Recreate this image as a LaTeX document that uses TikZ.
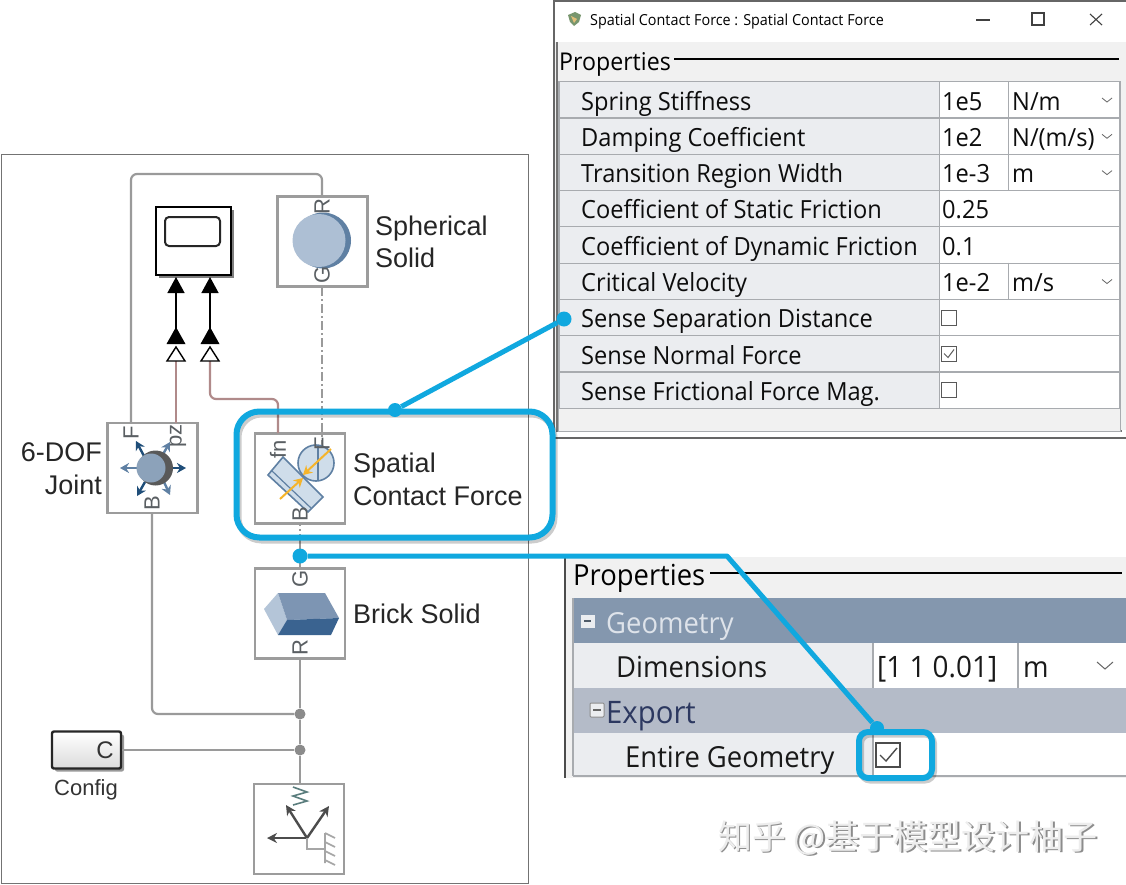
\documentclass[tikz,border=0pt]{standalone}
\usepackage{fontspec}
\setmainfont{Liberation Sans}
\newfontfamily\uifont[FakeStretch=0.945]{Open Sans}
\newfontfamily\cjk{Noto Sans CJK SC}
\usetikzlibrary{arrows.meta,shadows,calc}
\definecolor{wire}{HTML}{9A9A9A}
\definecolor{blockedge}{HTML}{9C9C9C}
\definecolor{redwire}{HTML}{B08A8A}
\definecolor{callout}{HTML}{10A8DF}
\definecolor{portc}{HTML}{5A5F63}
\definecolor{labelbg}{HTML}{EBEDF0}
\definecolor{grid}{HTML}{A8ABAF}
\definecolor{winbg}{HTML}{F1F1F1}
\definecolor{hdrA}{HTML}{8497AE}
\definecolor{hdrB}{HTML}{B4BBC8}
\definecolor{steel}{HTML}{5F80A3}
\definecolor{navy}{HTML}{1F4E79}
\definecolor{amber}{HTML}{F5B42A}
\definecolor{paleblue}{HTML}{CFDDEA}
\tikzset{
  fs/.style={font=\fontsize{#1}{#1}\selectfont},
  blockbox/.style={draw=blockedge,line width=2.4pt,fill=white,minimum width=90pt,minimum height=90pt,inner sep=0pt},
  wireline/.style={draw=wire,line width=2.2pt,rounded corners=6pt},
  redline/.style={draw=redwire,line width=2.2pt,rounded corners=6pt},
  sigline/.style={draw=black,line width=1.4pt,-{Triangle[length=16pt,width=17pt]}},
  dashwire/.style={draw=wire,line width=2pt,dash pattern=on 9pt off 3pt on 2pt off 3pt},
  junction/.style={circle,fill=wire!90!black,minimum size=11pt,inner sep=0pt},
  port/.style={rotate=90,text=portc,fs=22,inner sep=0pt},
  blocklabel/.style={anchor=base west,fs=27,text=black!85,inner sep=0pt},
  calloutline/.style={draw=callout,line width=5pt,line join=round},
  calloutdot/.style={circle,fill=callout,minimum size=15pt,inner sep=0pt},
  ghost/.style={draw=black,opacity=.2},
  rowlabel/.style={draw=grid,fill=labelbg,line width=1.2pt,minimum height=36.3pt,minimum width=380pt,anchor=north west,inner sep=0pt},
  rowvalue/.style={draw=grid,fill=white,line width=1.2pt,minimum height=36.3pt,anchor=north west,inner sep=0pt},
  rowtext/.style={anchor=base west,inner sep=0pt,text=black!95,font=\uifont\fontsize{25}{25}\selectfont},
  tickbox/.style={draw=black!65,line width=1pt,fill=white,minimum size=15pt,inner sep=0pt},
  chev/.style={draw=black!60,line width=.8pt},
  iconarrow/.style={line width=2.4pt,-{Stealth[length=9pt,width=10pt]}},
  sectiontext/.style={anchor=base west,inner sep=0pt,font=\uifont\fontsize{29}{29}\selectfont},
}
\begin{document}
\begin{tikzpicture}[x=1pt,y=-1pt]
\useasboundingbox (0,0) rectangle (1126,884);
\fill[white] (0,0) rectangle (1126,884);
% model frame
\node[draw=black!55,line width=1.8pt,fill=white,minimum width=527pt,minimum height=729pt,inner sep=0pt,anchor=north west] (frame) at (0.5,153.5) {};
% blocks
\node[blockbox] (sph) at (322.5,241.5) {};
\node[blockbox] (dof) at (152.5,468) {};
\node[blockbox] (scf) at (300,478.5) {};
\node[blockbox] (brick) at (300,613.5) {};
\node[blockbox] (world) at (299,829) {};
\node[draw=black,line width=2.4pt,fill=white,minimum width=75pt,minimum height=68pt,inner sep=0pt,
  drop shadow={shadow xshift=3pt,shadow yshift=-3pt,opacity=.5,fill=black}] (scope) at (193.5,241) {};
\node[draw=black!85,line width=2pt,rounded corners=4pt,minimum width=55pt,minimum height=29pt,inner sep=0pt] (scopein) at (192.5,231.5) {};
\node[draw=black!85,line width=2.4pt,rounded corners=2pt,minimum width=69pt,minimum height=37pt,inner sep=0pt,
  top color=white,bottom color=black!14,
  drop shadow={shadow xshift=3pt,shadow yshift=-3pt,opacity=.4,fill=black}] (cfg) at (86.5,750) {};
% coordinates for ports
\coordinate (dofF) at (131,422.5);
\coordinate (dofP) at (176,422.5);
\coordinate (sphR) at (322,196);
\coordinate (sphG) at (322,287);
\coordinate (scfF) at (322,445);
\coordinate (scfFn) at (278,433);
\coordinate (dofB) at (152,513.5);
\coordinate (scfB) at (300,524);
\coordinate (brickG) at (300,568);
\coordinate (brickR) at (300,659);
\coordinate (worldW) at (300,784);
\coordinate (mA) at (176,344);
\coordinate (mB) at (210,344);
\coordinate (mAt) at (176,361);
\coordinate (mBt) at (210,361);
\node[junction] (j1) at (300,714) {};
\node[junction] (j2) at (300,750) {};
% connectors
\draw[wireline] (dofF) -- (131,174) -- (322,174) -- (sphR);
\draw[dashwire] (sphG) -- (scfF);
\draw[wireline] (dofB) -- (152,714) -- (j1);
\draw[wireline] (brickR) -- (j1) -- (j2) -- (worldW);
\draw[wireline] (cfg.east) -- (j2);
\draw[draw=wire,line width=2pt,dash pattern=on 2pt off 3pt] (scfB) -- (300,540);
\draw[wireline] (300,540) -- (brickG);
\draw[redline] (dofP) -- (mAt);
\draw[redline] (scfFn) -- (278,399) -- (210,399) -- (mBt);
\draw[sigline] (mA) -- (176,277);
\draw[sigline] (mB) -- (210,277);
\foreach \p in {mA,mB}{
  \fill[black] ($(\p)+(-9.5,0)$) -- ($(\p)+(9.5,0)$) -- ($(\p)+(0,-17)$) -- cycle;
  \draw[black,line width=1.4pt,fill=white] ($(\p)+(-9,17)$) -- ($(\p)+(9,17)$) -- ($(\p)+(0,3)$) -- cycle;
}
% sphere icon
\fill[steel] (323,240.5) circle (28);
\fill[fill={rgb,255:red,173;green,191;blue,212}] (319,240.5) circle (26.5);
% 6DOF icon
\draw[iconarrow,steel] (140,468) -- (120,468);
\draw[iconarrow,navy] (170,468) -- (186,468);
\draw[iconarrow,navy] (144,456) -- (136,441);
\draw[iconarrow,steel] (162,456) -- (170,442);
\draw[iconarrow,navy] (145,482) -- (137,496);
\draw[iconarrow,steel] (164,482) -- (170,495);
\fill[black!65] (155.5,468) circle (17.5);
\fill[fill={rgb,255:red,140;green,162;blue,186}] (151,468) circle (14.5);
% contact icon
\fill[fill=paleblue,draw=steel,line width=1.6pt] (316,463) circle (18);
\draw[steel,line width=1.4pt] (318,446) -- (318,481);
\fill[fill=paleblue,draw=steel,line width=1.6pt] (283,457) -- (323,497) -- (308,512) -- (268,475) -- cycle;
\draw[steel,line width=1.2pt] (271,470) -- (311,508);
\draw[iconarrow,draw=amber,fill=amber,line width=2pt] (331,449) -- (303,475);
\draw[iconarrow,draw=amber,fill=amber,line width=2pt] (280,499) -- (303,478);
% brick icon
\fill[fill={rgb,255:red,180;green,197;blue,216}] (264,609) -- (278,593) -- (287,620) -- (278,635) -- cycle;
\fill[fill={rgb,255:red,125;green,149;blue,179}] (278,593) -- (325,593) -- (339,618) -- (287,620) -- cycle;
\fill[fill={rgb,255:red,58;green,99;blue,144}] (287,620) -- (339,618) -- (331,635) -- (278,635) -- cycle;
% world icon
\draw[black!70,line width=2.4pt,-{Stealth[length=10pt,width=10pt]}] (307,838) -- (267,838);
\draw[black!70,line width=2.4pt,-{Stealth[length=10pt,width=10pt]}] (307,838) -- (286,805);
\draw[black!70,line width=2.4pt,-{Stealth[length=10pt,width=10pt]}] (307,838) -- (329,806);
\draw[black!35,line width=1.6pt] (307,838) -- (307,849) -- (325,849);
\draw[black!35,line width=1.6pt] (325,833) -- (325,863) (325,833) -- (335,838) (325,842) -- (335,847) (325,851) -- (335,856) (325,860) -- (335,865);
\draw[draw={rgb,255:red,90;green,125;blue,125},line width=1.6pt] (293,787) -- (307,792) -- (293,796) -- (307,801) -- (293,805);
% port labels
\node[port] at (131,433) {F};
\node[port] at (178,436) {pz};
\node[port] at (152,503) {B};
\node[port] at (322,207) {R};
\node[port] at (322,275) {G};
\node[port] at (278,449) {fn};
\node[port] at (322,444) {F};
\node[port] at (300,514) {B};
\node[port] at (300,579) {G};
\node[port] at (300,648) {R};
\node[fs=24,text=black!80,inner sep=0pt] at (105,750) {C};
% block labels
\node[blocklabel] at (375,235) {Spherical};
\node[blocklabel] at (375,267) {Solid};
\node[blocklabel] at (353,472) {Spatial};
\node[blocklabel] at (353,505) {Contact Force};
\node[blocklabel] at (353,623) {Brick Solid};
\node[blocklabel,anchor=base east] at (102,461) {6-DOF};
\node[blocklabel,anchor=base east] at (102,494) {Joint};
\node[anchor=base,fs=22,text=black!80,inner sep=0pt] at (86,795) {Config};
% ---- window 1
\node[draw=black!60,line width=1.6pt,fill=white,minimum width=576pt,minimum height=437pt,anchor=north west,inner sep=0pt] (win) at (553,0) {};
\fill[winbg] (555,42) rectangle (1126,430);
\draw[black!55,line width=1.2pt] (557,42) -- (557,431) -- (1122,431);
\node[anchor=base west,inner sep=0pt,font=\uifont\fontsize{15.2}{16}\selectfont] at (590,25) {Spatial Contact Force : Spatial Contact Force};
\fill[fill={rgb,255:red,120;green,150;blue,110}] (568,15) -- (575,12) -- (581,15) -- (579,22) -- (574,26) -- (570,22) -- cycle;
\fill[fill={rgb,255:red,225;green,190;blue,120}] (571,16) -- (577,19) -- (574,23) -- cycle;
\draw[black!75,line width=1.1pt] (976,20) -- (990,20);
\draw[black!75,line width=1.1pt] (1032,13) rectangle (1044,25);
\draw[black!75,line width=1.1pt] (1090,14) -- (1102,25) (1102,14) -- (1090,25);
\node[sectiontext,font=\uifont\fontsize{24.5}{25}\selectfont] (prop1) at (559,70) {Properties};
\draw[black,line width=1.2pt] (674,59) -- (1119,59);
\node[draw=grid,line width=1.2pt,fill=winbg,minimum width=562pt,minimum height=350pt,anchor=north west,inner sep=0pt] (tbl) at (558,80.5) {};
\foreach \y/\t in {81/Spring Stiffness,117.3/Damping Coefficient,153.6/Transition Region Width,189.9/Coefficient of Static Friction,226.2/Coefficient of Dynamic Friction,262.5/Critical Velocity,298.8/Sense Separation Distance,335.1/Sense Normal Force,371.4/Sense Frictional Force Mag.}{
  \node[rowlabel] at (559,\y) {};
  \node[rowvalue,minimum width=180pt] at (939,\y) {};
  \node[rowtext] at (581,\y+29) {\t};
}
\foreach \y/\v in {81/1e5,117.3/1e2,153.6/1e-3,189.9/0.25,226.2/0.1,262.5/1e-2}{
  \node[rowtext] at (942,\y+29) {\v};
}
\foreach \y in {81,117.3,153.6,262.5}{
  \draw[grid,line width=1.2pt] (1008.5,\y) -- (1008.5,\y+36.3);
  \draw[chev] (1102,\y+17) -- (1107,\y+21) -- (1112,\y+17);
}
\node[rowtext] at (1012,110) {N/m};
\node[rowtext] at (1012,146.3) {N/(m/s)};
\node[rowtext] at (1012,182.6) {m};
\node[rowtext] at (1012,291.5) {m/s};
\node[tickbox] (cb1) at (949,317.5) {};
\node[tickbox] (cb2) at (949,353.5) {};
\node[tickbox] (cb3) at (949,390) {};
\draw[black!65,line width=1pt] ($(cb2)+(-5,0)$) -- ($(cb2)+(-1,4)$) -- ($(cb2)+(5,-4)$);
% ---- window 2
\fill[winbg] (565,557) rectangle (1126,778);
\draw[black!70,line width=2pt] (565,557) -- (565,778);
\node[sectiontext,font=\uifont\fontsize{29}{29}\selectfont] (prop2) at (573,585) {Properties};
\draw[black,line width=1.4pt] (710,573) -- (1122,573);
\fill[hdrA] (573,598) rectangle (1126,643);
\fill[labelbg] (573,643) rectangle (873,688);
\fill[hdrB] (573,688) rectangle (1126,733);
\fill[labelbg] (573,733) rectangle (873,776);
\fill[white] (873,733) rectangle (1126,776);
\fill[white] (873,643) rectangle (1126,688);
\draw[grid,line width=1.2pt] (873,643) -- (873,688) (1018,643) -- (1018,688) (873,733) -- (873,776) (573,776) -- (1126,776) (573,598) -- (573,776);
\draw[draw=labelbg,fill=labelbg,line width=1pt] (581,615) rectangle (594,627);
\draw[hdrA!60!black,line width=2pt] (584,621) -- (591,621);
\draw[black!45,fill=labelbg,line width=1pt,rounded corners=1pt] (590,703) rectangle (604,717);
\draw[black!60,line width=1.4pt] (593,710) -- (601,710);
\node[sectiontext,text={rgb,255:red,222;green,227;blue,234}] at (606,633) {Geometry};
\node[sectiontext,text={rgb,255:red,44;green,56;blue,96},font=\uifont\fontsize{31}{31}\selectfont] at (606,723) {Export};
\node[sectiontext,text=black!90] at (616,677) {Dimensions};
\node[sectiontext,text=black!90] at (625,767) {Entire Geometry};
\node[sectiontext,text=black!90,font=\uifont\fontsize{29.5}{30}\selectfont] at (877,677) {[1 1 0.01]};
\node[sectiontext,text=black!90] at (1023,677) {m};
\draw[black!60,line width=1pt] (1097,662) -- (1105,669) -- (1113,662);
\node[draw=black!70,line width=1.4pt,fill=white,minimum size=24pt,inner sep=0pt] (cb4) at (888,755) {};
\draw[black!70,line width=1.4pt] ($(cb4)+(-8,0)$) -- ($(cb4)+(-2,6)$) -- ($(cb4)+(9,-7)$);
% ---- callouts
\node[ghost,line width=6pt,rounded corners=23pt,minimum width=316pt,minimum height=126pt,inner sep=0pt] (box1s) at (396.5,477.5) {};
\node[ghost,line width=6pt,rounded corners=9pt,minimum width=73pt,minimum height=46pt,inner sep=0pt] (box2s) at (897.5,757.5) {};
\node[draw=callout,line width=6pt,rounded corners=23pt,minimum width=316pt,minimum height=126pt,inner sep=0pt] (box1) at (394.5,474.5) {};
\node[draw=callout,line width=6pt,rounded corners=9pt,minimum width=73pt,minimum height=46pt,inner sep=0pt] (box2) at (895.5,755) {};
\node[calloutdot,minimum size=14pt] (d1) at (395,410) {};
\node[calloutdot,minimum size=15pt] (d2) at (564,319) {};
\node[calloutdot,minimum size=15pt] (d3) at (300,556) {};
\node[calloutdot,minimum size=14pt] (d4) at (877,728) {};
\draw[calloutline] (d1) -- (d2);
\draw[calloutline] (d3) -- (727,556) -- (d4);
% watermark
\node[inner sep=0pt,anchor=base west,text=black!45,font=\cjk\fontsize{34}{34}\selectfont] (wms) at (719.5,850.5) {知乎 @基于模型设计柚子};
\node[inner sep=0pt,anchor=base west,text=black!7,font=\cjk\fontsize{34}{34}\selectfont] (wm) at (718,849) {知乎 @基于模型设计柚子};
\end{tikzpicture}
\end{document}
